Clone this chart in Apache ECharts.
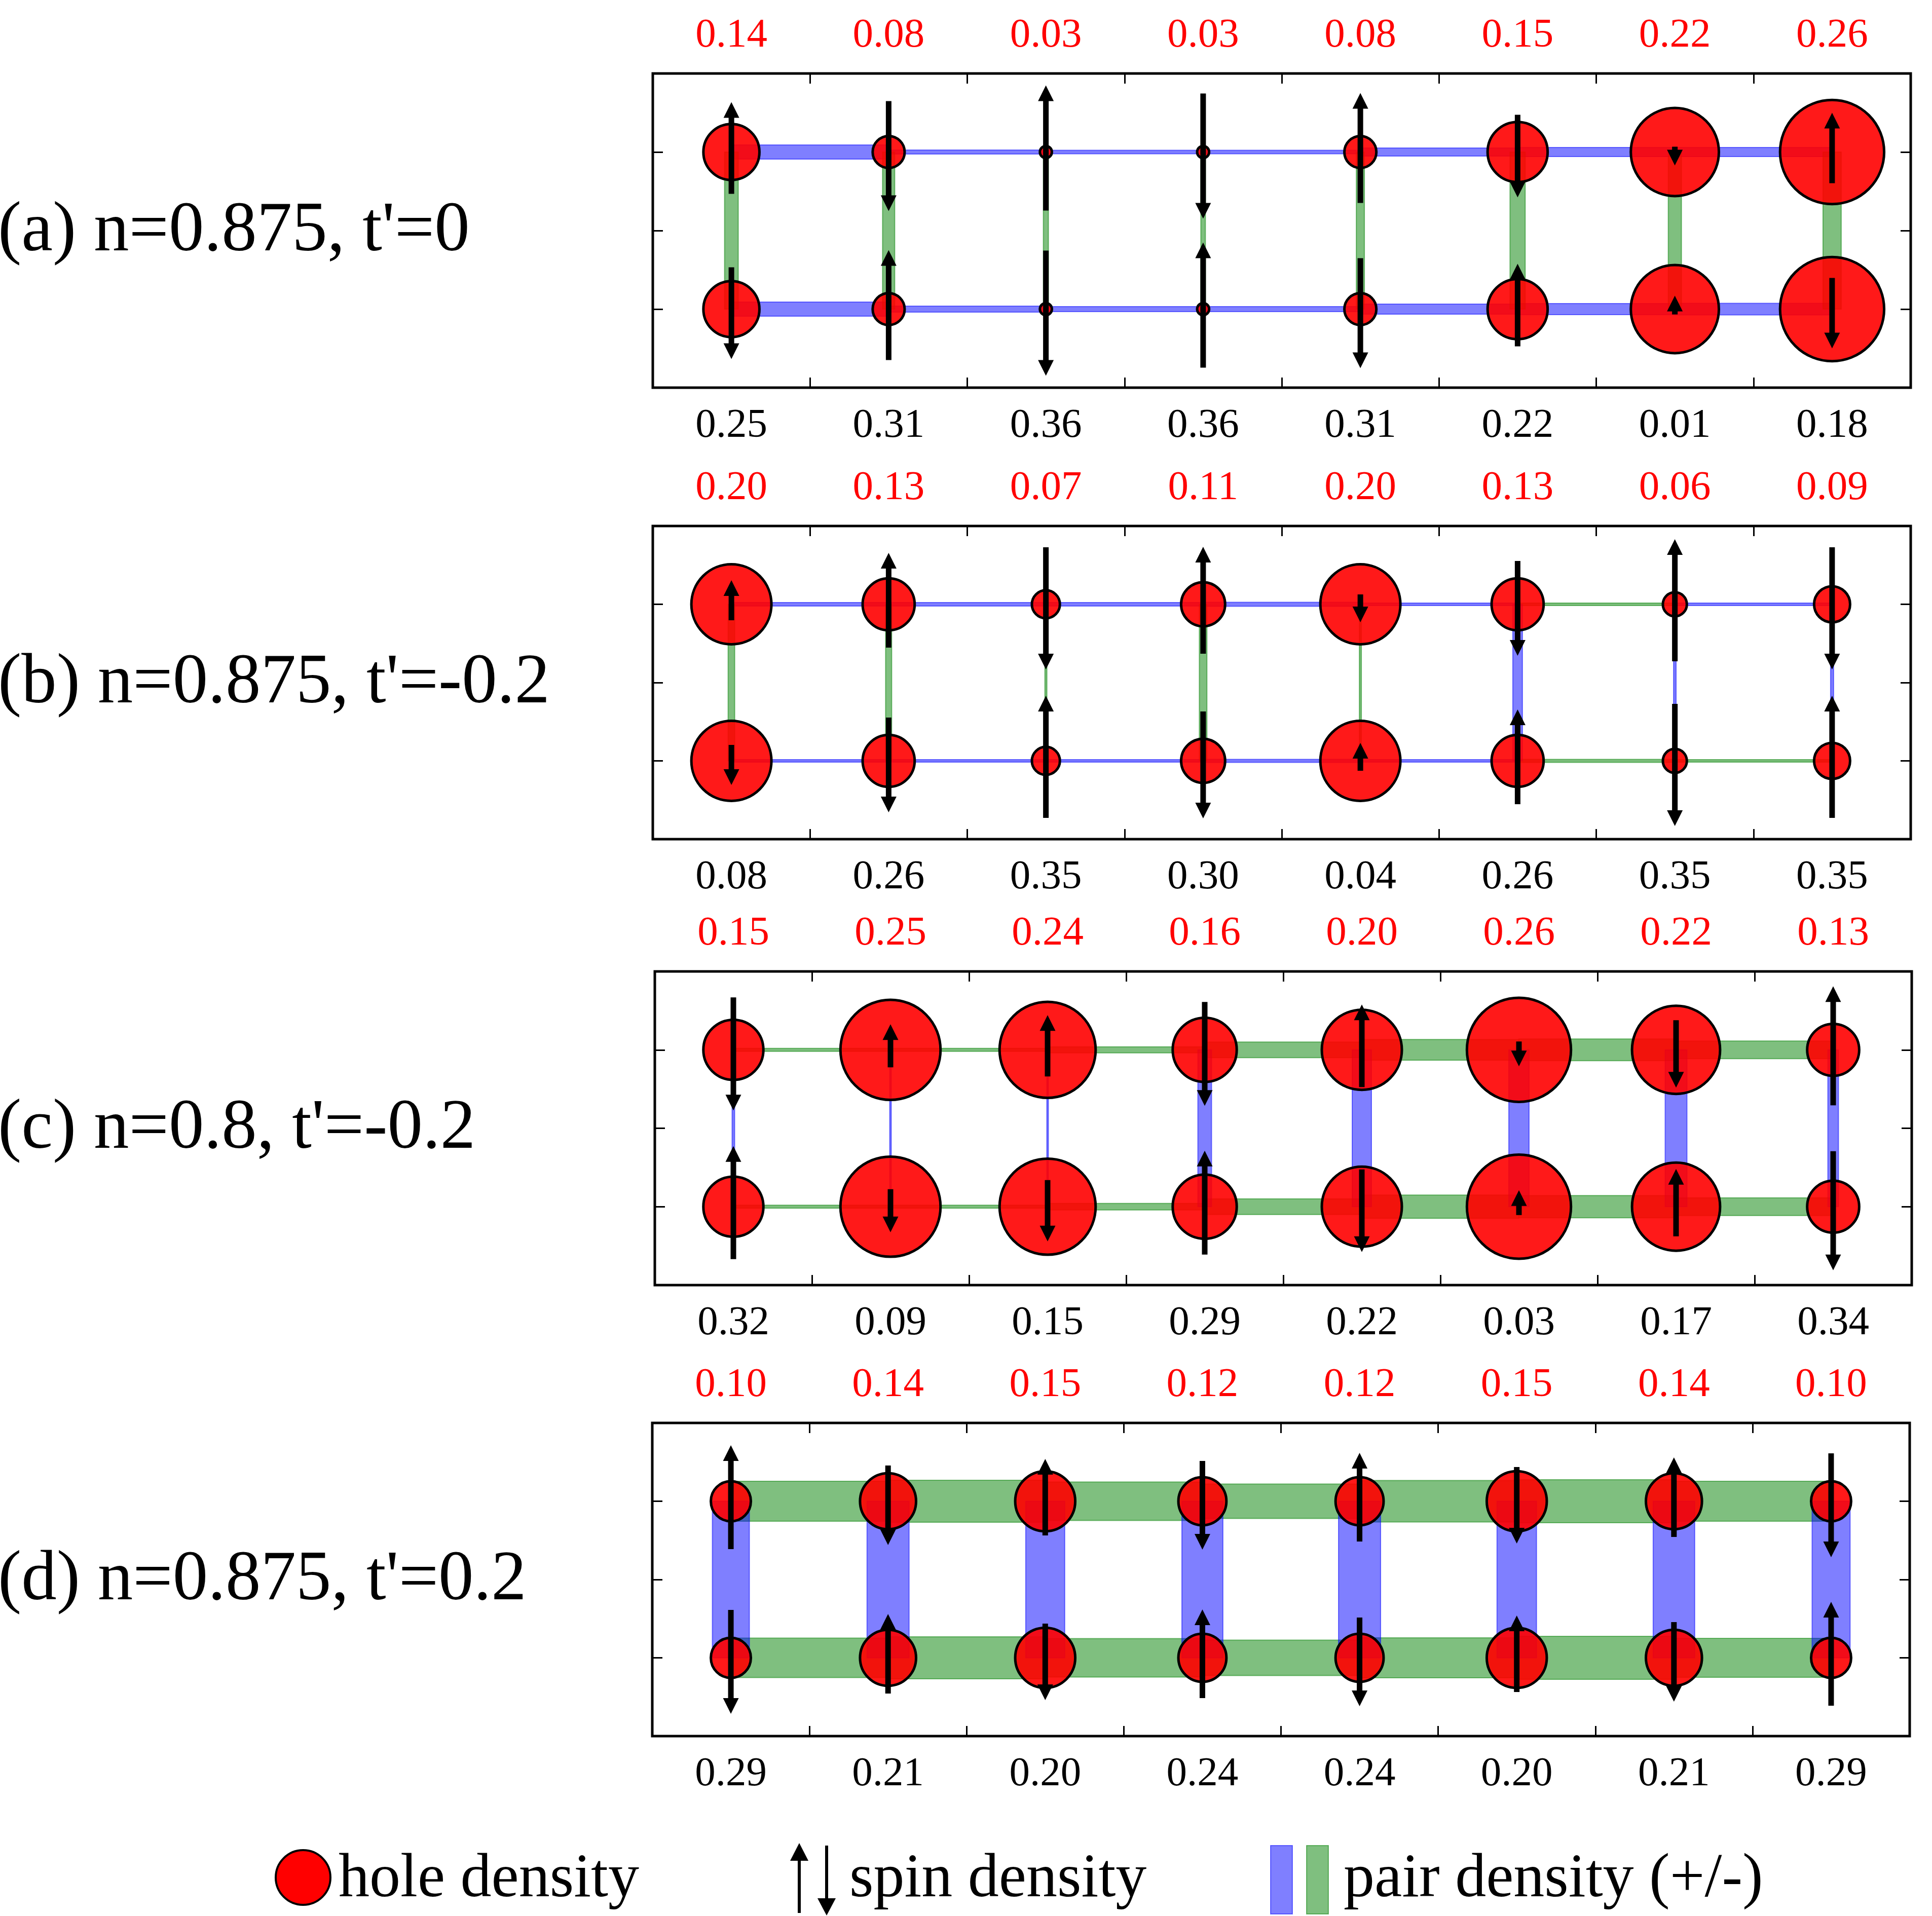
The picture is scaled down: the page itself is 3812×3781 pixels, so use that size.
<!DOCTYPE html>
<html><head><meta charset="utf-8">
<script src="https://cdn.jsdelivr.net/npm/echarts@6.0.0/dist/echarts.min.js"></script>
<style>html,body{margin:0;padding:0;background:#fff}#c{width:3812px;height:3781px}</style>
</head><body><div id="c"></div>
<script>
// ---------------- data ----------------
const panelTitles = ["(a) n=0.875, t'=0", "(b) n=0.875, t'=-0.2", "(c) n=0.8, t'=-0.2", "(d) n=0.875, t'=0.2"];
const columns = [0, 1, 2, 3, 4, 5, 6, 7];

// hole density per rung (red labels, circle size)
const holeA = [0.14, 0.08, 0.03, 0.03, 0.08, 0.15, 0.22, 0.26];
const holeB = [0.20, 0.13, 0.07, 0.11, 0.20, 0.13, 0.06, 0.09];
const holeC = [0.15, 0.25, 0.24, 0.16, 0.20, 0.26, 0.22, 0.13];
const holeD = [0.10, 0.14, 0.15, 0.12, 0.12, 0.15, 0.14, 0.10];

// spin density on the upper leg (signed: + up); lower leg is opposite
const spinA = [0.25, -0.31, 0.36, -0.36, 0.31, -0.22, -0.01, 0.18];
const spinB = [0.08, 0.26, -0.35, 0.30, -0.04, -0.26, 0.35, -0.35];
const spinC = [-0.32, 0.09, 0.15, -0.29, 0.22, -0.03, -0.17, 0.34];
const spinD = [0.29, -0.21, 0.20, -0.24, 0.24, -0.20, 0.21, -0.29];

// pair density (+ blue, - green): upper leg bonds, lower leg bonds, rungs
const pairTopA = [0.030, 0.010, 0.009, 0.009, 0.018, 0.020, 0.020];
const pairBotA = [0.030, 0.014, 0.012, 0.012, 0.022, 0.024, 0.025];
const pairRungA = [-0.029, -0.026, -0.012, -0.011, -0.018, -0.032, -0.028, -0.038];

const pairTopB = [0.009, 0.009, 0.009, 0.010, 0.007, -0.007, 0.007];
const pairBotB = [0.007, 0.007, 0.007, 0.008, 0.007, -0.008, -0.007];
const pairRungB = [-0.015, -0.014, -0.006, -0.017, -0.006, 0.021, 0.007, 0.008];

const pairTopC = [-0.008, -0.008, -0.014, -0.033, -0.043, -0.045, -0.037];
const pairBotC = [-0.008, -0.008, -0.015, -0.033, -0.048, -0.046, -0.037];
const pairRungC = [0.007, 0.005, 0.005, 0.029, 0.040, 0.042, 0.045, 0.023];

const pairTopD = [-0.081, -0.085, -0.078, -0.070, -0.084, -0.087, -0.081];
const pairBotD = [-0.080, -0.085, -0.078, -0.072, -0.081, -0.087, -0.079];
const pairRungD = [0.075, 0.085, 0.079, 0.083, 0.085, 0.080, 0.084, 0.077];

const xTickValues = [0.5, 1.5, 2.5, 3.5, 4.5, 5.5, 6.5];
const yTickValues = [0, 0.5, 1];

// ---------------- styling / layout ----------------
const SPIN_PX = 600, HEAD_LEN = 31, HEAD_W = 31, SHAFT_W = 11;
const HOLE_PX = 790, PAIR_PX = 1000;
const FONT = '"Liberation Serif", "DejaVu Serif", serif';
const grids = [
  {left: 1288, top: 145, width: 2482, height: 620},
  {left: 1288, top: 1038, width: 2482, height: 618},
  {left: 1292, top: 1917, width: 2480, height: 619},
  {left: 1287, top: 2808, width: 2481, height: 618}
];
const titleY = [457, 1349, 2228, 3119];

const panels = [
  {hole: holeA, spin: spinA, top: pairTopA, bot: pairBotA, rung: pairRungA},
  {hole: holeB, spin: spinB, top: pairTopB, bot: pairBotB, rung: pairRungB},
  {hole: holeC, spin: spinC, top: pairTopC, bot: pairBotC, rung: pairRungC},
  {hole: holeD, spin: spinD, top: pairTopD, bot: pairBotD, rung: pairRungD}
];

function renderBond(params, api) {
  const a = api.coord([api.value(0), api.value(1)]);
  const b = api.coord([api.value(2), api.value(3)]);
  const p = api.value(4);
  const w = Math.max(Math.abs(p) * PAIR_PX - 2, 1);
  const col = p >= 0 ? 'rgba(0,0,255,0.5)' : 'rgba(0,128,0,0.5)';
  let shape;
  if (Math.abs(a[1] - b[1]) < 1) {
    shape = {x: Math.min(a[0], b[0]), y: a[1] - w / 2, width: Math.abs(b[0] - a[0]), height: w};
  } else {
    shape = {x: a[0] - w / 2, y: Math.min(a[1], b[1]), width: w, height: Math.abs(b[1] - a[1])};
  }
  return {type: 'rect', shape: shape, style: {fill: col, stroke: col, lineWidth: 2}};
}

function renderArrow(params, api) {
  const c = api.coord([api.value(0), api.value(1)]);
  const s = api.value(2);
  const d = s > 0 ? -1 : 1;
  const total = Math.abs(s) * SPIN_PX + HEAD_LEN;
  const tip = c[1] + d * (total / 2 + 8);
  const tail = c[1] - d * (total / 2 - 8);
  const base = tip - d * HEAD_LEN;
  return {type: 'group', children: [
    {type: 'line', shape: {x1: c[0], y1: tail, x2: c[0], y2: base + d * 2}, style: {stroke: '#000', lineWidth: SHAFT_W}},
    {type: 'polygon', shape: {points: [[c[0] - HEAD_W / 2, base], [c[0] + HEAD_W / 2, base], [c[0], tip]]}, style: {fill: '#000'}}
  ]};
}

const option = {
  animation: false,
  backgroundColor: '#fff',
  grid: [], xAxis: [], yAxis: [], series: [],
  graphic: []
};

panels.forEach(function (P, g) {
  option.grid.push(Object.assign({show: true, borderColor: '#000', borderWidth: 5, backgroundColor: 'transparent'}, grids[g]));
  const tickCfg = {show: true, inside: true, length: 20, lineStyle: {color: '#000', width: 3}};
  option.xAxis.push({
    gridIndex: g, type: 'value', min: -0.5, max: 7.5, position: 'bottom',
    axisLine: {show: false, onZero: false}, splitLine: {show: false},
    axisTick: Object.assign({customValues: xTickValues}, tickCfg),
    axisLabel: {customValues: columns, margin: 35, fontSize: 81, fontFamily: FONT, color: '#000',
      formatter: function (v) { return Math.abs(P.spin[Math.round(v)]).toFixed(2); }}
  });
  option.xAxis.push({
    gridIndex: g, type: 'value', min: -0.5, max: 7.5, position: 'top',
    axisLine: {show: false, onZero: false}, splitLine: {show: false},
    axisTick: Object.assign({customValues: xTickValues}, tickCfg),
    axisLabel: {customValues: columns, margin: 34, fontSize: 81, fontFamily: FONT, color: '#ff0000',
      formatter: function (v) { return P.hole[Math.round(v)].toFixed(2); }}
  });
  ['left', 'right'].forEach(function (pos) {
    option.yAxis.push({
      gridIndex: g, type: 'value', min: -0.5, max: 1.5, position: pos,
      axisLine: {show: false, onZero: false}, splitLine: {show: false},
      axisTick: Object.assign({customValues: yTickValues}, tickCfg),
      axisLabel: {show: false}
    });
  });
  const xi = 2 * g, yi = 2 * g;
  const bonds = [];
  P.top.forEach(function (v, i) { bonds.push([i, 1, i + 1, 1, v]); });
  P.bot.forEach(function (v, i) { bonds.push([i, 0, i + 1, 0, v]); });
  P.rung.forEach(function (v, i) { bonds.push([i, 0, i, 1, v]); });
  option.series.push({type: 'custom', xAxisIndex: xi, yAxisIndex: yi, z: 2, silent: true,
    renderItem: renderBond, data: bonds, clip: false});
  const sites = [];
  columns.forEach(function (i) { sites.push([i, 1, P.hole[i]]); sites.push([i, 0, P.hole[i]]); });
  option.series.push({type: 'scatter', xAxisIndex: xi, yAxisIndex: yi, z: 3, silent: true,
    symbol: 'circle', symbolSize: function (v) { return v[2] * HOLE_PX; },
    itemStyle: {color: 'rgba(255,0,0,0.9)', borderColor: '#000', borderWidth: 5, opacity: 1},
    data: sites});
  const spins = [];
  columns.forEach(function (i) { spins.push([i, 1, P.spin[i]]); spins.push([i, 0, -P.spin[i]]); });
  option.series.push({type: 'custom', xAxisIndex: xi, yAxisIndex: yi, z: 4, silent: true,
    renderItem: renderArrow, data: spins, clip: false});

  option.graphic.push({type: 'text', x: -4, y: titleY[g], z: 10,
    style: {text: panelTitles[g], fontSize: 139, fontFamily: FONT, fill: '#000',
      align: 'left', verticalAlign: 'middle', textAlign: 'left', textVerticalAlign: 'middle'}});
});

// legend
const legendFont = {fontSize: 122, fontFamily: FONT, fill: '#000', align: 'left', verticalAlign: 'middle', textAlign: 'left', textVerticalAlign: 'middle'};
option.graphic.push(
  {type: 'circle', shape: {cx: 598, cy: 3705, r: 54}, style: {fill: '#ff0000', stroke: '#000', lineWidth: 4}},
  {type: 'text', x: 668, y: 3710, style: Object.assign({text: 'hole density'}, legendFont)},
  {type: 'line', shape: {x1: 1577, y1: 3775, x2: 1577, y2: 3668}, style: {stroke: '#000', lineWidth: 6}},
  {type: 'polygon', shape: {points: [[1559, 3672], [1595, 3672], [1577, 3637]]}, style: {fill: '#000'}},
  {type: 'line', shape: {x1: 1631, y1: 3642, x2: 1631, y2: 3750}, style: {stroke: '#000', lineWidth: 6}},
  {type: 'polygon', shape: {points: [[1613, 3746], [1649, 3746], [1631, 3780]]}, style: {fill: '#000'}},
  {type: 'text', x: 1676, y: 3710, style: Object.assign({text: 'spin density'}, legendFont)},
  {type: 'rect', shape: {x: 2507, y: 3642, width: 43, height: 135}, style: {fill: 'rgba(0,0,255,0.5)', stroke: 'rgba(0,0,255,0.5)', lineWidth: 2}},
  {type: 'rect', shape: {x: 2578, y: 3642, width: 43, height: 135}, style: {fill: 'rgba(0,128,0,0.5)', stroke: 'rgba(0,128,0,0.5)', lineWidth: 2}},
  {type: 'text', x: 2651, y: 3710, style: Object.assign({text: 'pair density (+/-)'}, legendFont)}
);

const chart = echarts.init(document.getElementById('c'), null, {renderer: 'canvas'});
chart.setOption(option);
</script>
</body></html>
